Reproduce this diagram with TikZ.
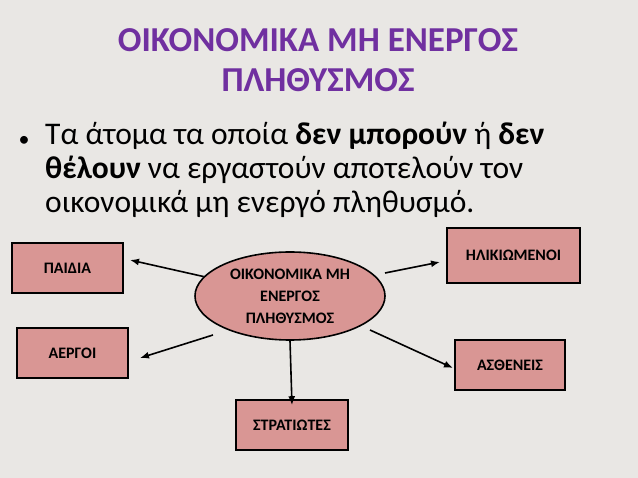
\documentclass[tikz,border=0pt]{standalone}
\usepackage{fontspec}
\setmainfont{Carlito}
\usetikzlibrary{positioning,shapes.geometric,arrows.meta}
\definecolor{boxpink}{HTML}{D99694}
\definecolor{titlepurple}{HTML}{7030A0}
\definecolor{paper}{HTML}{E9E7E4}
\begin{document}
\begin{tikzpicture}
    [
    x=1pt,y=-1pt,
    box/.style={draw,line width=1.6pt,fill=boxpink,inner sep=0pt,minimum width=111pt,minimum height=50pt,font=\fontsize{16}{19}\selectfont\bfseries},
    hub/.style={ellipse,draw,line width=1.6pt,fill=boxpink,inner sep=0pt,minimum width=190pt,minimum height=88pt,align=center,font=\fontsize{16}{22}\selectfont\bfseries},
    link/.style={-{Latex[length=9pt,width=7pt]},line width=1.6pt}
    ]
    \fill [paper] (0,0) rectangle (638,478);
    \node (title) at (318,60) [align=center,text=titlepurple,font=\fontsize{35}{40}\selectfont\bfseries] {ΟΙΚΟΝΟΜΙΚΑ ΜΗ ΕΝΕΡΓΟΣ\\ΠΛΗΘΥΣΜΟΣ};
    \node (bullet) at (24,147) [anchor=base,font=\fontsize{22}{34}\selectfont] {•};
    \node (intro) at (45,122) [anchor=north west,align=left,inner sep=0pt,font=\fontsize{31.5}{34}\selectfont] {Τα άτομα τα οποία \textbf{δεν μπορούν} ή \textbf{δεν}\\\textbf{θέλουν} να εργαστούν αποτελούν τον\\οικονομικά μη ενεργό πληθυσμό.};
    \node (hub) at (290,296) [hub] {ΟΙΚΟΝΟΜΙΚΑ ΜΗ\\ΕΝΕΡΓΟΣ\\ΠΛΗΘΥΣΜΟΣ};
    \node (kids) at (67.5,268) [box] {ΠΑΙΔΙΑ};
    \node (idle) at (72.5,353) [box] {ΑΕΡΓΟΙ};
    \node (old) at (513.5,255.5) [box,minimum width=133pt,minimum height=55pt] {ΗΛΙΚΙΩΜΕΝΟΙ};
    \node (sick) at (510,365) [box,minimum width=110pt] {\raisebox{-6pt}{ΑΣΘΕΝΕΙΣ}};
    \node (army) at (292,425) [box,minimum width=112pt] {\raisebox{-10pt}{ΣΤΡΑΤΙΩΤΕΣ}};
    \coordinate (kidsin) at (130,260);
    \coordinate (idlein) at (140,358);
    \coordinate (oldin) at (440,262);
    \coordinate (sickin) at (453,368);
    \draw [link] (hub) to (kidsin);
    \draw [link] (213,335) to (idlein);
    \draw [link] (hub.south) to ([yshift=-6pt]army.north);
    \draw [link] (385,273) to (oldin);
    \draw [link] (370,330) to (sickin);
\end{tikzpicture}
\end{document}
